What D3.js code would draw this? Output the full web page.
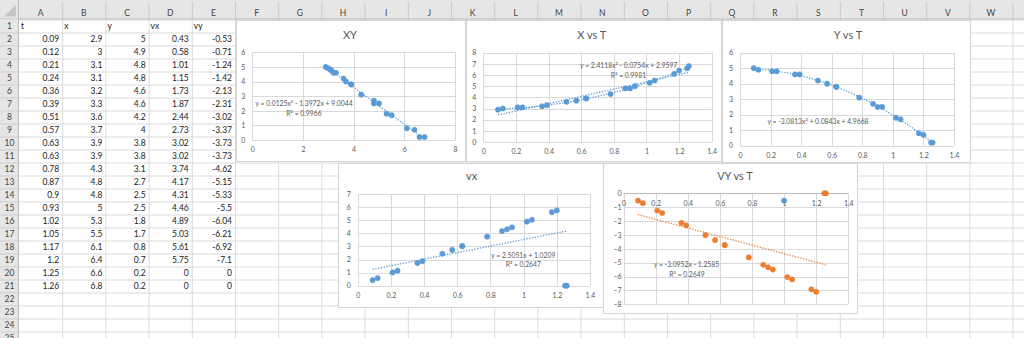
<!DOCTYPE html>
<html>
<head>
<meta charset="utf-8">
<script src="https://cdn.jsdelivr.net/npm/d3@7"></script>
<style>
  html, body { margin: 0; padding: 0; background: #fff; overflow: hidden; }
  svg { display: block; font-family: Lato, "Open Sans", "Noto Sans", sans-serif; }
</style>
</head>
<body>
<svg id="sheet" width="1024" height="338"></svg>
<script>
// ---- worksheet data (columns A..E) ----
const headers = ["t", "x", "y", "vx", "vy"];
const t  = [0.09, 0.12, 0.21, 0.24, 0.36, 0.39, 0.51, 0.57, 0.63, 0.63, 0.78, 0.87, 0.9, 0.93, 1.02, 1.05, 1.17, 1.2, 1.25, 1.26];
const xPos = [2.9, 3, 3.1, 3.1, 3.2, 3.3, 3.6, 3.7, 3.9, 3.9, 4.3, 4.8, 4.8, 5, 5.3, 5.5, 6.1, 6.4, 6.6, 6.8];
const yPos = [5, 4.9, 4.8, 4.8, 4.6, 4.6, 4.2, 4, 3.8, 3.8, 3.1, 2.7, 2.5, 2.5, 1.8, 1.7, 0.8, 0.7, 0.2, 0.2];
const vx = [0.43, 0.58, 1.01, 1.15, 1.73, 1.87, 2.44, 2.73, 3.02, 3.02, 3.74, 4.17, 4.31, 4.46, 4.89, 5.03, 5.61, 5.75, 0, 0];
const vy = [-0.53, -0.71, -1.24, -1.42, -2.13, -2.31, -3.02, -3.37, -3.73, -3.73, -4.62, -5.15, -5.33, -5.5, -6.04, -6.21, -6.92, -7.1, 0, 0];

// single-point first series in the "VY vs T" chart
const vySeries1X = [1];
const vySeries1Y = [-0.53];

const columnLetters = ["A","B","C","D","E","F","G","H","I","J","K","L","M","N","O","P","Q","R","S","T","U","V","W"];
const columnCount = 24;   // one more column partly visible at the right edge
const rowCount = 25;

// tick values
const ticksX8  = [0, 2, 4, 6, 8];
const ticksT   = [0, 0.2, 0.4, 0.6, 0.8, 1, 1.2, 1.4];
const ticks0to6 = [0, 1, 2, 3, 4, 5, 6];
const ticks0to7 = [0, 1, 2, 3, 4, 5, 6, 7];
const ticks0to8 = [0, 1, 2, 3, 4, 5, 6, 7, 8];
const ticksNeg8 = [0, -1, -2, -3, -4, -5, -6, -7, -8];

// trendline coefficients (highest power first)
const fitXY   = [0.0125, -1.3972, 9.0044];
const fitXT   = [2.4118, -0.0754, 2.9597];
const lineXT  = [3.26, 2.13];            // linear trendline without a label
const fitYT   = [-3.0813, 0.0843, 4.9668];
const fitVX   = [2.5051, 1.0209];
const fitVY   = [-3.0952, -1.2585];

const blue = "#5b9bd5", orange = "#ed7d31";
const gridColor = "#d9d9d9", textGray = "#595959";

const svg = d3.select("#sheet");

// ---- worksheet grid ----
const colW = 43.2, colX0 = 19, headerH = 19.5, rowH = 13;
const colLeft = i => colX0 + i * colW;
const rowTop = r => headerH + (r - 1) * rowH;   // r is 1-based

const grid = svg.append("g");
for (let r = 1; r <= rowCount + 1; r++) {
  grid.append("line").attr("x1", colX0).attr("x2", 1024)
    .attr("y1", rowTop(r) + 0.5).attr("y2", rowTop(r) + 0.5)
    .attr("stroke", "#dadada");
}
d3.range(1, columnCount + 1).forEach(i => {
  grid.append("line").attr("x1", colLeft(i) + 0.5).attr("x2", colLeft(i) + 0.5)
    .attr("y1", headerH).attr("y2", 338).attr("stroke", "#dadada");
});

// column header band
svg.append("rect").attr("x", 0).attr("y", 0).attr("width", 1024).attr("height", headerH).attr("fill", "#e6e6e6");
svg.append("line").attr("x1", 0).attr("x2", 1024).attr("y1", headerH - 0.5).attr("y2", headerH - 0.5).attr("stroke", "#bdbdbd");
d3.range(1, columnCount + 1).forEach(i => {
  svg.append("line").attr("x1", colLeft(i) + 0.5).attr("x2", colLeft(i) + 0.5)
    .attr("y1", 2).attr("y2", headerH).attr("stroke", "#c9c9c9");
});
columnLetters.forEach((c, i) => {
  svg.append("text").attr("x", colLeft(i) + colW / 2).attr("y", 15.5)
    .attr("text-anchor", "middle").attr("font-size", 8.5).attr("fill", "#444").text(c);
});

// row header band
svg.append("rect").attr("x", 0).attr("y", headerH).attr("width", colX0).attr("height", 338 - headerH).attr("fill", "#e6e6e6");
svg.append("line").attr("x1", colX0 - 0.5).attr("x2", colX0 - 0.5).attr("y1", 0).attr("y2", 338).attr("stroke", "#bdbdbd");
for (let r = 1; r <= rowCount; r++) {
  svg.append("line").attr("x1", 0).attr("x2", colX0).attr("y1", rowTop(r + 1) + 0.5).attr("y2", rowTop(r + 1) + 0.5).attr("stroke", "#cfcfcf");
  svg.append("text").attr("x", 9.5).attr("y", rowTop(r) + 9.8)
    .attr("text-anchor", "middle").attr("font-size", 8.5).attr("fill", "#444").text(r);
}
// select-all corner triangle
svg.append("path").attr("d", `M${colX0 - 3},5 L${colX0 - 3},${headerH - 3} L${colX0 - 15},${headerH - 3} Z`).attr("fill", "#c4c4c4");

// cell contents
const cells = svg.append("g").attr("font-size", 8.5).attr("fill", "#222");
headers.forEach((h, i) => {
  cells.append("text").attr("x", colLeft(i) + 2).attr("y", rowTop(1) + 9.8).text(h);
});
[t, xPos, yPos, vx, vy].forEach((col, ci) => {
  col.forEach((v, ri) => {
    cells.append("text").attr("x", colLeft(ci + 1) - 3).attr("y", rowTop(ri + 2) + 9.8)
      .attr("text-anchor", "end").text(String(v));
  });
});

// ---- chart helper ----
const poly = c => v => c.reduce((acc, k) => acc * v + k, 0);
const fmtT = d => String(+d.toFixed(1));

function drawChart(cfg) {
  const g = svg.append("g");
  const [bx, by, bw, bh] = cfg.box;
  g.append("rect").attr("x", bx + 0.5).attr("y", by + 0.5).attr("width", bw).attr("height", bh)
    .attr("fill", "#fff").attr("stroke", "#d4d4d4");

  const p = cfg.plot;
  const xs = d3.scaleLinear().domain(cfg.xDomain).range([p.left, p.right]);
  const ys = d3.scaleLinear().domain(cfg.yDomain).range([p.bottom, p.top]);

  // gridlines
  g.append("g").selectAll("line").data(cfg.yTicks).join("line")
    .attr("x1", p.left).attr("x2", p.right)
    .attr("y1", d => Math.round(ys(d)) + 0.5).attr("y2", d => Math.round(ys(d)) + 0.5)
    .attr("stroke", gridColor);
  g.append("g").selectAll("line").data(cfg.xTicks).join("line")
    .attr("y1", p.top).attr("y2", p.bottom)
    .attr("x1", d => Math.round(xs(d)) + 0.5).attr("x2", d => Math.round(xs(d)) + 0.5)
    .attr("stroke", gridColor);

  // axis labels
  const xAxisY = cfg.xAxisAt !== undefined ? ys(cfg.xAxisAt) : p.bottom;
  if (cfg.xAxisAt !== undefined) {
    g.append("line").attr("x1", p.left).attr("x2", p.right)
      .attr("y1", Math.round(xAxisY) + 0.5).attr("y2", Math.round(xAxisY) + 0.5)
      .attr("stroke", "#bfbfbf");
  }
  const ax = g.append("g").attr("transform", `translate(0,${xAxisY})`)
    .call(d3.axisBottom(xs).tickValues(cfg.xTicks).tickSize(0).tickPadding(7.5).tickFormat(cfg.xFormat || fmtT));
  const ay = g.append("g").attr("transform", `translate(${p.left},0)`)
    .call(d3.axisLeft(ys).tickValues(cfg.yTicks).tickSize(0).tickPadding(cfg.yPad !== undefined ? cfg.yPad : 7).tickFormat(d3.format("d")));
  [ax, ay].forEach(a => {
    a.select(".domain").remove();
    a.selectAll("text").attr("font-size", 7).attr("fill", textGray).attr("font-family", "Lato, 'Open Sans', sans-serif");
  });

  // title
  g.append("text").attr("x", cfg.title.x).attr("y", cfg.title.y)
    .attr("text-anchor", "middle").attr("font-size", 11).attr("fill", textGray).text(cfg.title.text);

  // trendlines
  (cfg.trends || []).forEach(tr => {
    const f = poly(tr.coef);
    const xsSamp = d3.range(0, 61).map(i => tr.from + (tr.to - tr.from) * i / 60);
    g.append("path")
      .attr("d", d3.line().x(v => xs(v)).y(v => ys(f(v)))(xsSamp))
      .attr("fill", "none").attr("stroke", tr.color).attr("stroke-width", 1.3)
      .attr("stroke-dasharray", "1.3 1.5");
  });

  // points
  cfg.series.forEach(s => {
    g.append("g").selectAll("circle").data(s.x.map((v, i) => [v, s.y[i]])).join("circle")
      .attr("cx", d => xs(d[0])).attr("cy", d => ys(d[1])).attr("r", 2.6)
      .attr("fill", s.color).attr("stroke", s.color).attr("stroke-width", 0.6);
  });

  // trendline labels
  (cfg.labels || []).forEach(l => {
    g.append("text").attr("x", l.x).attr("y", l.y).attr("text-anchor", "middle")
      .attr("font-size", 6.8).attr("fill", textGray).text(l.text);
  });
}

// XY
drawChart({
  box: [236, 20, 229, 141],
  plot: { left: 252.3, right: 455, top: 52.3, bottom: 140 },
  xDomain: [0, 8], yDomain: [0, 6], xTicks: ticksX8, yTicks: ticks0to6,
  xFormat: d3.format("d"),
  title: { text: "XY", x: 350, y: 39 },
  series: [{ x: xPos, y: yPos, color: blue }],
  trends: [{ coef: fitXY, from: d3.min(xPos), to: d3.max(xPos), color: blue }],
  labels: [
    { text: "y = 0.0125x² - 1.3972x + 9.0044", x: 304, y: 105.8 },
    { text: "R² = 0.9966", x: 304, y: 115.8 }
  ]
});

// X vs T
drawChart({
  box: [466, 20, 255, 141],
  plot: { left: 483.3, right: 711.7, top: 52.7, bottom: 142 },
  xDomain: [0, 1.4], yDomain: [0, 8], xTicks: ticksT, yTicks: ticks0to8,
  title: { text: "X vs T", x: 591.7, y: 39 },
  series: [{ x: t, y: xPos, color: blue }],
  trends: [
    { coef: fitXT, from: d3.min(t), to: d3.max(t), color: blue },
    { coef: lineXT, from: d3.min(t), to: d3.max(t), color: blue }
  ],
  labels: [
    { text: "y = 2.4118x² - 0.0754x + 2.9597", x: 628.7, y: 67.5 },
    { text: "R² = 0.9981", x: 628.5, y: 77.5 }
  ]
});

// Y vs T
drawChart({
  box: [722, 20, 248, 142],
  plot: { left: 740, right: 954, top: 52.7, bottom: 145.7 },
  xDomain: [0, 1.4], yDomain: [0, 6], xTicks: ticksT, yTicks: ticks0to6,
  title: { text: "Y vs T", x: 848, y: 39 },
  series: [{ x: t, y: yPos, color: blue }],
  trends: [{ coef: fitYT, from: d3.min(t), to: d3.max(t), color: blue }],
  labels: [
    { text: "y = -3.0813x² + 0.0843x + 4.9668", x: 818, y: 124.2 }
  ]
});

// vx
drawChart({
  box: [338, 163, 265, 144],
  plot: { left: 357.7, right: 590, top: 194, bottom: 285.7 },
  xDomain: [0, 1.4], yDomain: [0, 7], xTicks: ticksT, yTicks: ticks0to7,
  title: { text: "vx", x: 471.7, y: 180 },
  series: [{ x: t, y: vx, color: blue }],
  trends: [{ coef: fitVX, from: d3.min(t), to: d3.max(t), color: blue }],
  labels: [
    { text: "y = 2.5051x + 1.0209", x: 523.3, y: 257.5 },
    { text: "R² = 0.2647", x: 523.3, y: 266.8 }
  ]
});

// VY vs T
drawChart({
  box: [603, 163, 254, 150],
  plot: { left: 623.6, right: 848.3, top: 193.3, bottom: 304.3 },
  xDomain: [0, 1.4], yDomain: [-8, 0], xTicks: ticksT, yTicks: ticksNeg8,
  xAxisAt: 0, yPad: 2,
  title: { text: "VY vs T", x: 735, y: 179.5 },
  series: [
    { x: vySeries1X, y: vySeries1Y, color: blue },
    { x: t, y: vy, color: orange }
  ],
  trends: [{ coef: fitVY, from: d3.min(t), to: d3.max(t), color: orange }],
  labels: [
    { text: "y = -3.0952x - 1.2585", x: 686.5, y: 266.8 },
    { text: "R² = 0.2649", x: 687, y: 276.5 }
  ]
});
</script>
</body>
</html>
